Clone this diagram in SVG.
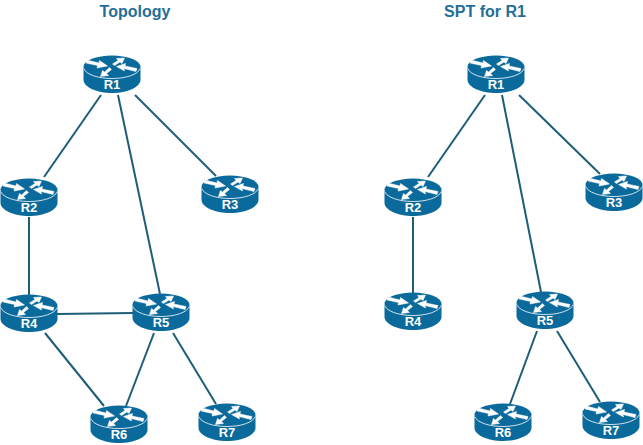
<svg xmlns="http://www.w3.org/2000/svg" xmlns:xlink="http://www.w3.org/1999/xlink" width="643" height="445" viewBox="0 0 643 445">
<style>
.title{font:bold 16px "Liberation Sans",Arial,sans-serif;fill:#1f6f96;text-anchor:middle}
.lbl{font:bold 13px "Liberation Sans",Arial,sans-serif;fill:#fff;text-anchor:middle}
.link{stroke:#1d5d78;stroke-width:2;fill:none}
</style>
<defs>
<g id="router">
<path d="M-28.500 0V12C-28.500 19 -15 25 0 25S28.500 19 28.500 12V0Z" fill="#0b6a9c"/>
<ellipse cx="0" cy="-1" rx="28.500" ry="11.500" fill="#0b6a9c"/>
<path d="M-28.300 0.500C-26 6.500 -14 10.500 0 10.500S26 6.500 28.300 0.500" fill="none" stroke="#fff" stroke-width="0.800"/>
<g fill="#fff" stroke="#fff" stroke-width="0.500" stroke-linejoin="round">
<path d="M-25 -8L-13 -5L-12.500 -7.500L-4.500 -2L-15 0L-14.500 -2.500L-26 -5Z"/>
<path d="M24 3.500L12 0.500L12.500 3L4.500 -1.500L13.500 -4.500L13 -2L25 0.500Z"/>
<path d="M0.500 -4L6 -7.500L4.500 -9.500L12.500 -10L10 -4.500L8 -6L2.500 -2.500Z"/>
<path d="M-0.500 1.500L-5.500 5.500L-3.500 7.500L-11.500 8.500L-9.500 2.500L-7.500 4L-2.500 -0.500Z"/>
</g>
</g>
</defs>
<rect width="643" height="445" fill="#fff"/>
<text class="title" x="135" y="17">Topology</text>
<text class="title" x="485" y="17">SPT for R1</text>
<g id="connectors">
<path class="link" d="M101 95L44 177"/>
<path class="link" d="M118 95L160 294"/>
<path class="link" d="M135 95L216 176"/>
<path class="link" d="M29 217V295"/>
<path class="link" d="M57 314L133 313"/>
<path class="link" d="M45 333L104 406"/>
<path class="link" d="M154 333L126 406"/>
<path class="link" d="M173 333L216 404"/>
<path class="link" d="M485 95L428 177"/>
<path class="link" d="M502 95L541 292"/>
<path class="link" d="M519 95L600 174"/>
<path class="link" d="M413 217V293"/>
<path class="link" d="M537 331L510 404"/>
<path class="link" d="M557 331L600 402"/>
</g>
<g id="topo-R1"><use xlink:href="#router" href="#router" x="112" y="68"/><text class="lbl" x="112" y="89">R1</text></g>
<g id="topo-R2"><use xlink:href="#router" href="#router" x="29" y="191"/><text class="lbl" x="29" y="212">R2</text></g>
<g id="topo-R3"><use xlink:href="#router" href="#router" x="230" y="188"/><text class="lbl" x="230" y="209">R3</text></g>
<g id="topo-R4"><use xlink:href="#router" href="#router" x="29" y="307"/><text class="lbl" x="29" y="328">R4</text></g>
<g id="topo-R5"><use xlink:href="#router" href="#router" x="161" y="306"/><text class="lbl" x="161" y="327">R5</text></g>
<g id="topo-R6"><use xlink:href="#router" href="#router" x="119" y="418"/><text class="lbl" x="119" y="439">R6</text></g>
<g id="topo-R7"><use xlink:href="#router" href="#router" x="227" y="416"/><text class="lbl" x="227" y="437">R7</text></g>
<g id="spt-R1"><use xlink:href="#router" href="#router" x="496" y="68"/><text class="lbl" x="496" y="89">R1</text></g>
<g id="spt-R2"><use xlink:href="#router" href="#router" x="413" y="191"/><text class="lbl" x="413" y="212">R2</text></g>
<g id="spt-R3"><use xlink:href="#router" href="#router" x="614" y="186"/><text class="lbl" x="614" y="207">R3</text></g>
<g id="spt-R4"><use xlink:href="#router" href="#router" x="413" y="305"/><text class="lbl" x="413" y="326">R4</text></g>
<g id="spt-R5"><use xlink:href="#router" href="#router" x="545" y="304"/><text class="lbl" x="545" y="325">R5</text></g>
<g id="spt-R6"><use xlink:href="#router" href="#router" x="503" y="416"/><text class="lbl" x="503" y="437">R6</text></g>
<g id="spt-R7"><use xlink:href="#router" href="#router" x="611" y="414"/><text class="lbl" x="611" y="435">R7</text></g>
</svg>
